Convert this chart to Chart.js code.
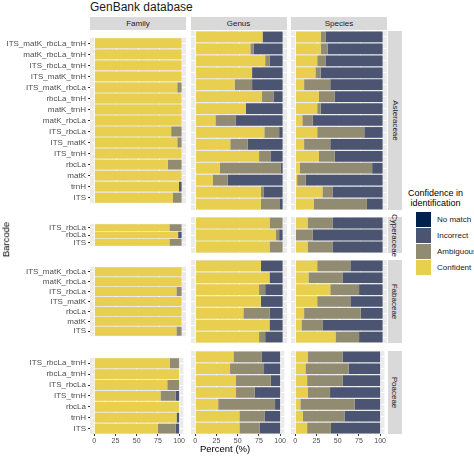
<!DOCTYPE html>
<html>
<head>
<meta charset="utf-8">
<script src="https://cdn.jsdelivr.net/npm/chart.js@4"></script>
<style>
body { margin: 0; background: #fff; font-family: "Liberation Sans", Arial, sans-serif; }
#wrap { position: relative; width: 474px; height: 458px; overflow: hidden; }
.pc { position: absolute; }
.strip { position: absolute; background: #d9d9d9; color: #1a1a1a; font-size: 8px; display: flex; align-items: center; justify-content: center; }
.rstrip span { transform: rotate(90deg); white-space: nowrap; }
.txt { position: absolute; color: #000; white-space: nowrap; }
.key { position: absolute; left: 416px; width: 15px; height: 15px; }
.klab { position: absolute; left: 437px; font-size: 8px; color: #1a1a1a; }
</style>
</head>
<body>
<div id="wrap"></div>
<script>
// series order in each row: confident, ambiguous, incorrect, no match
const seriesNames = ["Confident", "Ambiguous", "Incorrect", "No match"];
const seriesColors = ["#e8cf4f", "#918c71", "#4b5470", "#00204d"];
const columns = ["Family", "Genus", "Species"];
const groups = ["Asteraceae", "Cyperaceae", "Fabaceae", "Poaceae"];
const xTicks = [0, 25, 50, 75, 100];

const astLabels = ["ITS_matK_rbcLa_trnH", "matK_rbcLa_trnH", "ITS_rbcLa_trnH", "ITS_matK_trnH", "ITS_matK_rbcLa",
    "rbcLa_trnH", "matK_trnH", "matK_rbcLa", "ITS_rbcLa", "ITS_matK", "ITS_trnH", "rbcLa", "matK", "trnH", "ITS"];
const astFamily = [[100,0,0,0],[100,0,0,0],[100,0,0,0],[100,0,0,0],[95,5,0,0],[100,0,0,0],[100,0,0,0],[100,0,0,0],
    [88,12,0,0],[95,5,0,0],[100,0,0,0],[84,16,0,0],[100,0,0,0],[97,0,3,0],[90,10,0,0]];
const astGenus = [[77,0,23,0],[63,4,33,0],[80,5,15,0],[65,0,35,0],[45,20,35,0],[76,14,10,0],[58,0,42,0],[23,23,54,0],
    [79,17,4,0],[40,20,40,0],[73,13,14,0],[28,70,2,0],[20,17,63,0],[75,3,22,0],[75,22,3,0]];
const astSpecies = [[29,6,65,0],[29,8,63,0],[25,10,65,0],[23,6,71,0],[10,30,60,0],[27,18,55,0],[25,4,71,0],[8,12,80,0],
    [25,54,21,0],[10,30,60,0],[27,18,55,0],[5,83,12,0],[2,10,88,0],[31,12,57,0],[21,61,18,0]];

const cypLabels = ["ITS_rbcLa", "rbcLa", "ITS"];
const cypFamily = [[86,14,0,0],[96,0,4,0],[86,14,0,0]];
const cypGenus = [[85,15,0,0],[92,4,4,0],[85,15,0,0]];
const cypSpecies = [[14,29,57,0],[0,20,80,0],[14,29,57,0]];

const fabLabels = ["ITS_matK_rbcLa", "matK_rbcLa", "ITS_rbcLa", "ITS_matK", "rbcLa", "matK", "ITS"];
const fabFamily = [[100,0,0,0],[100,0,0,0],[94,6,0,0],[100,0,0,0],[100,0,0,0],[100,0,0,0],[94,6,0,0]];
const fabGenus = [[75,0,25,0],[85,0,15,0],[73,7,20,0],[75,0,25,0],[55,30,15,0],[85,0,15,0],[73,7,20,0]];
const fabSpecies = [[25,38,37,0],[15,39,46,0],[40,33,27,0],[25,38,37,0],[10,65,25,0],[7,24,69,0],[46,27,27,0]];

const poaLabels = ["ITS_rbcLa_trnH", "rbcLa_trnH", "ITS_rbcLa", "ITS_trnH", "rbcLa", "trnH", "ITS"];
const poaFamily = [[89,11,0,0],[100,0,0,0],[86,14,0,0],[78,18,4,0],[100,0,0,0],[97,0,3,0],[75,21,4,0]];
const poaGenus = [[45,33,22,0],[41,40,19,0],[48,41,11,0],[48,22,30,0],[27,67,6,0],[52,30,18,0],[52,24,24,0]];
const poaSpecies = [[15,41,44,0],[12,51,37,0],[14,42,44,0],[15,26,59,0],[6,64,30,0],[9,49,42,0],[14,28,58,0]];

const groupData = [
    [astLabels, [astFamily, astGenus, astSpecies]],
    [cypLabels, [cypFamily, cypGenus, cypSpecies]],
    [fabLabels, [fabFamily, fabGenus, fabSpecies]],
    [poaLabels, [poaFamily, poaGenus, poaSpecies]]
];

// layout
const groupTop = [31, 217, 260, 351];
const groupBottom = [210, 253, 343, 434];
const colLeft = [90, 190.5, 291];
const panelW = 96;
const yAxisW = 90;
const xAxisH = 14;

const wrap = document.getElementById("wrap");

function addDiv(cls, style, html) {
    const d = document.createElement("div");
    d.className = cls;
    d.style.cssText = style;
    d.innerHTML = html;
    wrap.appendChild(d);
    return d;
}

const panelBg = {
    id: "panelBg",
    beforeDraw(chart) {
        const { ctx, chartArea, scales } = chart;
        ctx.save();
        ctx.fillStyle = "#ebebeb";
        ctx.fillRect(chartArea.left, chartArea.top, chartArea.right - chartArea.left, chartArea.bottom - chartArea.top);
        // minor grid lines
        ctx.strokeStyle = "#ffffff";
        ctx.lineWidth = 0.5;
        [12.5, 37.5, 62.5, 87.5].forEach(v => {
            const x = scales.x.getPixelForValue(v);
            ctx.beginPath();
            ctx.moveTo(x, chartArea.top);
            ctx.lineTo(x, chartArea.bottom);
            ctx.stroke();
        });
        ctx.restore();
    }
};

function makePanel(g, c) {
    const labels = groupData[g][0];
    const rows = groupData[g][1][c];
    const showY = c === 0;
    const showX = g === groups.length - 1;
    const left = showY ? colLeft[c] - yAxisW : colLeft[c];
    const w = showY ? panelW + yAxisW : panelW;
    const h = groupBottom[g] - groupTop[g] + (showX ? xAxisH : 0);

    const box = document.createElement("div");
    box.className = "pc";
    box.style.cssText = `left:${left}px;top:${groupTop[g]}px;width:${w}px;height:${h}px;`;
    const cv = document.createElement("canvas");
    box.appendChild(cv);
    wrap.appendChild(box);

    new Chart(cv, {
        type: "bar",
        data: {
            labels: labels,
            datasets: seriesNames.map((name, i) => ({
                label: name,
                data: rows.map(r => r[i]),
                backgroundColor: seriesColors[i],
                borderWidth: 0,
                categoryPercentage: 0.9,
                barPercentage: 1
            }))
        },
        options: {
            indexAxis: "y",
            animation: false,
            responsive: true,
            maintainAspectRatio: false,
            layout: { padding: 0 },
            plugins: { legend: { display: false }, tooltip: { enabled: false } },
            scales: {
                x: {
                    stacked: true,
                    min: -5,
                    max: 105,
                    afterBuildTicks: s => { s.ticks = xTicks.map(v => ({ value: v })); },
                    afterFit: s => { if (showX) s.height = xAxisH; },
                    border: { display: false },
                    grid: { color: "#ffffff", lineWidth: 1, tickColor: "#333333", tickLength: 2, drawTicks: showX },
                    ticks: { display: showX, color: "#4d4d4d", font: { size: 7, family: "Liberation Sans" }, padding: 1, maxRotation: 0 }
                },
                y: {
                    stacked: true,
                    offset: true,
                    afterFit: s => { if (showY) s.width = yAxisW; },
                    border: { display: false },
                    grid: { offset: false, color: "#ffffff", tickColor: "#333333", tickLength: 2, drawTicks: showY },
                    ticks: { display: showY, color: "#4d4d4d", font: { size: 8, family: "Liberation Sans" }, padding: 2, autoSkip: false }
                }
            }
        },
        plugins: [panelBg]
    });
}

for (let g = 0; g < groups.length; g++) {
    for (let c = 0; c < columns.length; c++) makePanel(g, c);
    addDiv("strip rstrip", `left:388px;top:${groupTop[g]}px;width:14px;height:${groupBottom[g] - groupTop[g]}px;`,
        `<span>${groups[g]}</span>`);
}
columns.forEach((name, c) => {
    addDiv("strip", `left:${colLeft[c]}px;top:17px;width:${panelW}px;height:13px;`, name);
});

addDiv("txt", "left:90px;top:0px;font-size:12px;color:#1a1a1a;", "GenBank database");
addDiv("txt", "left:200px;top:443px;font-size:9.5px;", "Percent (%)");
addDiv("txt", "left:-12px;top:234px;font-size:9.5px;transform:rotate(-90deg);", "Barcode");
addDiv("txt", "left:408px;top:188px;font-size:9px;text-align:center;line-height:10px;", "Confidence in<br>identification");

const legendOrder = [3, 2, 1, 0];
legendOrder.forEach((s, i) => {
    const y = 212 + i * 16;
    addDiv("key", `top:${y}px;background:${seriesColors[s]};`, "");
    addDiv("klab", `top:${y + 3}px;`, seriesNames[s]);
});
</script>
</body>
</html>
